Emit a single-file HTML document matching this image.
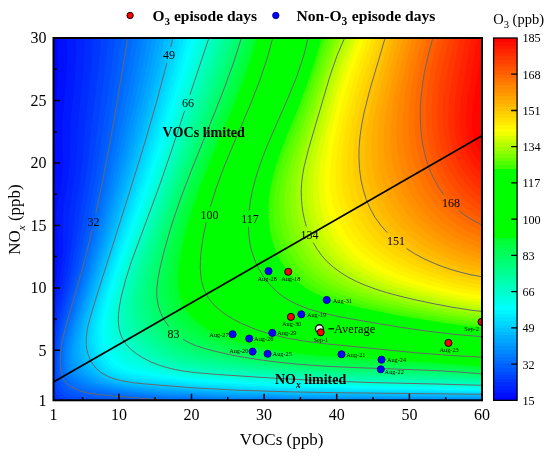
<!DOCTYPE html>
<html><head><meta charset="utf-8"><title>EKMA</title>
<style>html,body{margin:0;padding:0;background:#fff}svg{display:block}</style></head>
<body>
<svg width="550" height="457" viewBox="0 0 550 457" font-family="'Liberation Serif', 'Times New Roman', serif" fill="#000">
<rect width="550" height="457" fill="#fff"/>
<g>
<rect x="53.5" y="38" width="428.5" height="362.3" fill="#0005ff"/>
<path fill="#000fff" d="M56.9,38L482,38 482,400.3 53.5,400.3 53.5,272.5 54.3,263.6 54.6,254.6 54.3,246.6 53.5,237.9 53.5,187.9 54.9,173.7 55.4,160.8 53.9,125.8 57.1,88.9 58,73.9 58.1,57 57,39Z"/>
<path fill="#0019ff" d="M66.4,38L482,38 482,400.3 53.5,400.3 53.5,292.8 57.4,270.6 58.4,260.6 58.8,251.6 58.5,239.2 56.4,220.6 56.2,215.7 57,207.7 60.9,182.7 62.3,167.7 62.7,153.8 62.1,125.8 66.7,72.9 67.1,56 66.4,39Z"/>
<path fill="#0023ff" d="M75.6,38L482,38 482,400.3 53.5,400.3 53.5,306.4 59.7,277.5 61.5,266.6 62.7,255.6 63.3,241.6 62.5,215.7 63.4,207.7 67.6,182.7 69.3,166.8 69.9,154.8 70.5,122.8 74.3,83.9 75.5,66.9 75.9,52 75.7,39Z"/>
<path fill="#002dff" d="M84.5,38L482,38 482,400.3 53.5,400.3 53.5,320.5 55.8,308.5 63,277.5 66.6,254.6 67.6,242.6 68.8,214.7 74,181.7 76.1,163.8 78.4,121.8 83.8,65.9 84.5,51 84.6,39Z"/>
<path fill="#0037ff" d="M92.9,38L482,38 482,400.3 57.2,400.3 56.5,399.7 53.5,395.6 53.7,334.4 55,325.4 57.1,314.5 67.2,272.5 70.9,250.6 74.4,215.7 79.8,182.7 82.2,163.8 85.7,120.8 91.6,64.9 92.6,51 92.9,39Z"/>
<path fill="#0042ff" d="M100.8,38L482,38 482,400.3 64.5,400.3 60.8,398.3 58.5,396.3 56.9,394.3 55.3,391.3 53.5,383.9 53.5,364.1 54.9,353.4 54.9,343.4 55.4,336.4 58.7,318.5 67.7,283.5 72.5,261.6 75.3,245.6 79.6,214.7 85.6,179.7 88.4,158.8 92.6,118.8 98.4,68.9 100.1,51 100.8,39Z"/>
<path fill="#004cff" d="M108.2,38L482,38 482,400.3 77.7,400.3 72.5,399.2 67.5,397.5 64.5,396.1 61.5,393.9 59.3,391.3 57.5,387.8 56.2,383.3 55.5,378.3 55.1,365.4 56.3,353.4 57.1,338.4 60.5,320.9 70.5,283.6 75.6,261.6 89.5,185.7 93.8,157.8 103.4,82 107,53 108.2,39Z"/>
<path fill="#0056ff" d="M115.1,38L482,38 482,400.3 99.8,400.3 84.5,398.3 75.5,396.4 68.5,393.9 63.5,390.5 60.9,387.3 59.1,383.3 58,379.3 57.2,373.4 56.9,362.4 58.8,339.4 62.1,323.4 72.5,286.2 78.6,261.6 83.5,239.2 92.6,192.7 96.5,170.7 100.5,144.8 111.2,69.9 115.1,39Z"/>
<path fill="#0060ff" d="M121.6,38L482,38 482,400.3 146.8,400.3 122.4,398.4 110.4,398.9 87.5,395.8 80.5,394.4 74.5,392.5 69.5,390.2 65.4,387.3 62.9,384.3 61.4,381.3 59.9,376.3 58.9,370.4 58.6,359.4 60.2,341.4 63.8,325.4 74.7,287.5 81.5,261.6 86.9,238.6 94.5,202.7 100.4,172.2 105.4,143.4 113.4,93.2 121.5,39Z"/>
<path fill="#006aff" d="M127.6,38L482,38 482,400.3 169.9,400.3 151.4,399.2 122.4,396.6 114.4,396.3 90.5,393.5 82.5,391.8 76.5,389.7 70.5,386.7 66.5,383.6 64.5,381.1 63.1,378.3 61.6,373.4 60.7,368.4 60.2,358.4 61.9,342.4 65.7,326.4 77.2,287.5 83.7,263.6 89.7,239.6 97.6,204.7 104.8,169.7 111.4,134.5 127.5,39Z"/>
<path fill="#0074ff" d="M133.1,38L482,38 482,400.3 207.7,400.3 193.3,399.2 169.4,398.9 138.4,396.6 115.4,394.3 92.5,391.2 85.5,389.7 78.7,387.3 72.5,384.1 68.5,381 66.5,378.5 64.9,375.3 63.5,371.4 62.5,366.4 62,358.4 63.6,343.4 67.6,327.4 79.2,288.5 86.5,262.6 94.5,231.7 100.4,206.5 108.5,169.7 116.4,130.5 124.4,87.8 132.9,39Z"/>
<path fill="#007eff" d="M138.2,38L482,38 482,400.3 278.6,400.3 269.2,399.6 254.1,400.3 232.4,400.3 215.3,399.6 194.3,397.9 167.4,397.4 150.4,396.2 130.4,394.2 116.4,392.6 94.5,389.1 87,387.3 80.5,384.9 74.5,381.7 70.5,378.4 68.5,375.9 66.6,372.4 65.2,368.4 64.4,364.4 64,356.4 65.6,343.4 69.7,327.4 81.2,289.5 89.5,260.7 97.4,230.8 103.4,206.5 113.4,163 122.4,121.2 131.4,75.7 138,39Z"/>
<path fill="#0088ff" d="M143,38L482,38 482,400.3 412.8,400.3 380.1,399.9 358.1,400.3 302.9,400.3 287.2,399.8 270.2,398.6 249.3,399.2 230.3,399 194.3,396.7 165.4,395.9 147.4,394.5 129.4,392.6 116.4,390.9 97.4,387.5 89.2,385.3 82.5,382.7 76.6,379.3 72.5,375.9 70.5,373.4 68.5,369.6 66.5,362.4 66.3,354.4 67.7,343.4 72.1,326.4 83.5,289.5 93.5,255.1 107.4,202 119.4,152 128.4,112.1 139.4,58.9 142.9,39Z"/>
<path fill="#0092ff" d="M147.7,38L482,38 482,399.5 380.1,398.9 344.2,399.3 304.2,399.2 287.2,398.7 270.2,397.6 249.3,398 230.3,397.7 194.3,395.5 164.4,394.4 129.4,391.2 117.4,389.5 100.4,386.1 91.5,383.5 84.5,380.5 79.1,377.3 74.5,373.4 72.3,370.4 70.7,367.4 68.9,360.4 68.6,356.4 68.8,351.4 70.4,341.4 74.9,324.4 86.5,286.9 97.4,249.6 111.4,197.5 124.4,145.8 133.3,107.9 143.4,61.7 147.6,39Z"/>
<path fill="#009cff" d="M152.2,38L482,38 482,398.7 380.1,397.9 343.2,398.2 303.2,398 270.2,396.5 250.3,396.8 230.3,396.4 194.3,394.2 164.4,393 144.4,391.4 129.4,389.7 117.4,387.9 104.4,385.1 95.5,382.5 88.1,379.3 81.6,375.3 77.5,371.7 75.5,369.3 73.5,365.8 72.2,362.4 71.4,358.4 71.5,349.4 73.2,339.4 77.6,322.5 90.6,280.5 102.4,240.4 120.5,173.7 131.3,131.8 139.4,98.7 148.3,59 152.1,39Z"/>
<path fill="#00a6ff" d="M156.6,38L482,38 482,397.8 380.1,397 343.2,397.2 301.2,396.8 270.2,395.5 250.3,395.6 230.3,395.1 163.4,391.5 130.4,388.4 118.4,386.6 107.4,384.1 98.6,381.3 91.8,378.3 85.3,374.4 80.5,370.1 78.3,367.4 76.5,364.2 75,360.4 74.3,356.4 74.3,347.4 76.4,335.4 80.4,320.5 95.5,271.7 107.4,231.6 129.2,152.8 145.4,89.8 152.7,58 156.4,39Z"/>
<path fill="#00b0ff" d="M160.8,38L482,38 482,396.9 298.2,395.6 270.2,394.5 250.3,394.4 230.3,393.8 163.4,390 130.4,387 119.4,385.2 109.4,382.9 101.7,380.3 94.5,377 88.5,373 83.5,368.4 81.2,365.4 79.1,361.4 77.8,357.4 77.2,353.4 77.5,343.4 79.9,330.4 83.7,316.5 111,227.6 135.2,142.8 150.4,84.9 156.8,58 160.7,39Z"/>
<path fill="#00bbff" d="M165,38L482,38 482,396.1 296.2,394.4 231.3,392.5 169.4,389 133.4,385.8 122.4,384.2 115.4,382.8 107.1,380.3 100,377.3 93.5,373.4 87.9,368.4 84.8,364.4 82.6,360.4 81.2,356.4 80.4,352.4 80.1,347.4 80.5,341.4 82.7,328.4 86.5,314.5 117,215.7 139.6,138.8 154.4,83.9 160.4,59.2 164.8,39Z"/>
<path fill="#00c5ff" d="M169,38L482,38 482,395.2 292.2,393.1 231.3,391.2 173.4,387.9 134.4,384.4 118.4,381.8 108.4,378.9 102.8,376.3 96.6,372.4 91.3,367.4 88.4,363.4 86.2,359.4 84.7,355.4 83.6,350.4 83.2,345.4 83.4,339.4 85.5,326.4 89.4,312.5 123.2,203.7 143.7,135.8 158,83.9 168.8,39Z"/>
<path fill="#00cfff" d="M172.9,38L482,38 482,394.3 343.2,392.8 289.2,391.9 233.3,390 183.3,387.1 144.4,383.9 131.4,382.4 119.4,380.4 109.8,377.3 105.5,375.3 99.5,371.4 95.3,367.4 92.4,363.4 89.6,358.4 87.8,353.4 86.7,348.4 86.2,343.4 86.3,337.4 87.2,330.4 88.4,324.4 91,314.5 97.8,292.5 132.5,182.7 147.4,133.9 161.4,84.3 172.7,39Z"/>
<path fill="#00d9ff" d="M176.7,38L482,38 482,393.5 343.2,391.8 279.2,390.4 233.3,388.7 191.3,386.3 145.4,382.3 132.4,380.8 121.4,378.9 114.4,376.8 108.4,374.4 102.5,370.4 98.4,366.4 95.5,362.2 92.4,356.4 90.7,351.4 89.6,346.4 89.1,341.4 89.2,335.4 90.1,328.4 91.5,321.9 95.4,307.5 104,279.5 135.7,181.7 150.3,134.8 164.3,85.9 176.5,39Z"/>
<path fill="#00e3ff" d="M180.2,39L180.4,38 482,38 482,392.6 355.1,390.9 279.2,389.2 233.3,387.3 192.3,385 145.4,380.5 132.4,378.9 123.7,377.3 116.7,375.3 110.4,372.6 105.6,369.4 101.5,365.4 98.4,361 95.6,355.4 93.8,350.4 92.5,344.4 92.1,338.4 92.3,332.4 94.6,319.5 99.6,301.5 109.4,269.6 138.2,182.7 152.4,138 166.4,90.3 180,40Z"/>
<path fill="#00edff" d="M184.1,38L482,38 482,391.7 368.1,390.1 279.2,388 193.3,383.7 157.4,380.1 135.4,377.3 125.4,375.5 119.4,373.8 113.4,371.2 109,368.4 104.8,364.4 101.4,359.7 98.8,354.4 96.7,348.4 95.5,342.4 95.1,336.4 95.3,330.4 96.3,323.4 97.8,316.5 103.4,296.2 112.4,267.3 140.4,184.7 154.4,141.3 169.1,91.9 183.8,39Z"/>
<path fill="#00f7ff" d="M187.7,38L482,38 482,390.8 369.1,389.1 279.2,386.7 194.3,382.3 159.4,378.5 137.1,375.3 127.4,373.5 121.4,371.8 116,369.4 111.5,366.4 107.4,362.4 104.4,358.1 101.6,352.4 99.7,346.4 98.6,340.4 98.2,334.4 98.5,328.4 99.4,321.5 101.4,312.5 107.2,291.5 115.6,264.6 142.3,187.7 156.3,144.8 170.5,97.9 187.4,39Z"/>
<path fill="#00fffd" d="M191.2,38L482,38 482,389.9 371.1,388.1 320.2,386.7 264.3,384.8 194.3,380.8 164,377.3 141.4,373.7 130.4,371.5 123.4,369.4 118.4,367.1 114.4,364.4 110.4,360.4 107,355.4 104.4,349.7 102.6,343.4 101.6,337.4 101.4,331.4 101.9,324.4 103.2,316.5 105.2,307.5 110.8,287.5 118.6,262.6 143.7,191.7 157.4,150.5 171.5,104.9 191,39Z"/>
<path fill="#00fff2" d="M194.8,38L482,38 482,389 372.1,387 325.2,385.7 264.3,383.4 194.9,379.3 179.4,377.7 164.4,375.5 147.2,372.4 133.7,369.4 127.2,367.4 121.4,364.7 116.7,361.4 113.4,358 110.3,353.4 107.6,347.4 105.8,341.4 104.8,334.4 104.7,327.4 105.3,320.5 106.7,312.5 109.1,302.5 114.4,283.3 121.7,260.6 145.4,194.7 158.6,155.8 172.1,112.9 194.5,39Z"/>
<path fill="#00ffe7" d="M198.1,39L198.3,38 482,38 482,388.1 373.1,386 325.2,384.5 265.3,382 194.3,377.7 180.4,376.1 166.4,373.9 153.8,371.4 138.1,367.4 130.4,364.8 125.2,362.4 120.8,359.4 116.8,355.4 113.4,350.4 110.7,344.4 109,338.4 108,331.4 108,324.4 108.7,317.5 110.3,308.5 112.7,298.5 118,279.5 124.4,259.7 147.5,196.7 160.4,159 197.8,40Z"/>
<path fill="#00ffdc" d="M201.9,38L482,38 482,387.2 373.1,384.9 325.2,383.3 262.3,380.4 193.3,376 179.4,374.2 166.4,371.9 154.4,369 142.4,365.4 134.5,362.4 128.4,359.3 123.4,355.6 119.5,351.4 116.2,346.4 113.6,340.4 112.1,334.4 111.4,328.4 111.4,321.5 112.3,313.5 113.9,304.5 116.6,293.5 121.4,276.5 127.4,258.2 149.5,198.7 162.2,161.8 201.6,39Z"/>
<path fill="#00ffd2" d="M205.1,39L205.4,38 482,38 482,386.3 373.1,383.8 325.2,382.1 260.3,378.8 207.3,375.4 193.3,374.2 180.4,372.5 169.4,370.4 159.4,367.9 150.4,365 141.6,361.4 133.9,357.4 128.2,353.4 123.2,348.4 119.8,343.4 117.4,338.4 115.7,332.4 114.8,325.4 114.9,318.5 115.7,310.5 117.6,300.5 120.3,289.5 124.6,274.5 130.4,256.9 151.4,200.7 164.3,163.8 204.8,40Z"/>
<path fill="#00ffc7" d="M208.9,38L482,38 482,385.3 373.1,382.6 325.2,380.9 259.3,377.2 207.3,373.7 192.8,372.4 180.4,370.6 169.9,368.4 160.4,365.6 152.4,362.6 143.7,358.4 137.4,354.5 130.8,349.4 126.2,344.4 122.8,339.4 120.6,334.4 119,328.4 118.3,321.5 118.5,314.5 119.4,306.5 121.3,296.5 124.1,285.5 128.4,270.7 133.4,255.8 154.4,199.7 167,163.8 208.6,39Z"/>
<path fill="#00ffbc" d="M212.3,38L482,38 482,384.3 362.1,381.1 325.2,379.6 258.3,375.6 213.1,372.4 193.3,370.5 181.4,368.6 171.4,366.4 163.4,363.9 155.4,360.6 147.4,356.4 141.4,352.4 134.4,346.6 129.7,341.4 126.3,336.4 124.1,331.4 122.6,325.4 121.9,318.5 122.1,311.5 123.2,302.5 125.1,292.5 127.9,281.5 131.8,268.6 136.5,254.6 156.4,201.4 169.4,164.8 212,39Z"/>
<path fill="#00ffb1" d="M215.3,39L215.6,38 482,38 482,383.3 440,381.8 362.1,379.8 325.2,378.3 258.3,374 211.6,370.4 195.3,368.7 185.3,367.1 176.4,365.2 167.4,362.5 159.8,359.4 152.4,355.4 145.1,350.4 138.4,344.5 133.8,339.4 130.4,334.4 128,329.4 126.4,323.4 125.6,316.5 125.6,309.5 126.7,300.5 128.6,290.5 131.3,279.5 138.5,256.6 169.2,172.7 215,40Z"/>
<path fill="#00ffa6" d="M218.9,38L482,38 482,382.2 440,380.6 361.1,378.5 323.2,376.8 257.8,372.4 216.3,368.8 198.3,366.9 188.3,365.4 179.2,363.4 170.4,360.6 162.8,357.4 155.7,353.4 148.7,348.4 143.1,343.4 137.8,337.4 134.4,332.4 131.6,326.4 130,320.5 129.3,314.5 129.4,306.5 130.2,298.5 131.9,289.5 134.5,278.5 142.7,252.6 178.6,153.8 218.6,39Z"/>
<path fill="#00ff9b" d="M222.1,38L482,38 482,381.1 440,379.3 360.1,377.1 318.2,375.2 257.3,370.6 201.3,365 190.8,363.4 181.9,361.4 173.4,358.7 166.4,355.6 159,351.4 152.4,346.5 146.9,341.4 141.7,335.4 138.4,330.4 135.6,324.4 133.9,318.5 133.1,311.5 133.1,303.5 134,295.5 135.6,286.5 138.1,276.5 142.3,262.6 148.4,244.6 198.9,104.9 218.3,50 221.9,39Z"/>
<path fill="#00ff91" d="M225.1,39L225.4,38 482,38 482,380 440,378 351.2,375.3 314.2,373.5 259.3,369.1 206.4,363.4 195.3,361.6 186.3,359.7 178.6,357.4 171.2,354.4 164,350.4 157.4,345.6 151.6,340.4 146.4,334.4 143,329.4 140,323.4 138.1,317.5 137,310.5 136.9,302.5 137.6,294.5 139.1,285.5 141.5,275.5 147.2,256.6 156,230.6 208.2,87.9 220.6,53 224.8,40Z"/>
<path fill="#00ff86" d="M228.6,38L482,38 482,378.9 443,376.8 354.1,374 313.2,371.9 288.2,370.1 260.3,367.5 212.3,361.8 200.3,359.9 190.3,357.8 182.2,355.4 174.9,352.4 167.6,348.4 161.4,343.8 155.5,338.4 150.4,332.4 146.5,326.4 143.7,320.5 141.9,314.5 140.9,307.5 140.8,299.5 141.5,291.5 143.1,282.5 145.5,272.5 153,247.6 164.3,214.7 177.4,178.8 212.9,83.9 223.5,54 228.3,39Z"/>
<path fill="#00ff7b" d="M231.8,38L482,38 482,377.7 443,375.4 352.2,372.4 313.2,370.4 267.3,366.5 226.3,361.4 198.3,356.6 189.3,354.3 181.1,351.4 173.2,347.4 166.4,342.7 160.4,337.4 154.4,330.4 150.6,324.4 147.8,318.5 145.8,311.5 144.8,304.5 144.7,296.5 145.5,288.5 147.1,279.5 149.5,269.6 157.8,241.6 169.4,207.7 182.3,172.5 215.8,84.9 226.1,56 231.6,39Z"/>
<path fill="#00ff70" d="M235.1,38L482,38 482,376.5 460,374.9 434.1,373.5 353.2,370.9 315.2,368.9 276.2,365.7 239.3,361 220.3,358 204.3,354.9 194.2,352.4 185.5,349.4 177.4,345.4 170.4,340.6 164.4,335.3 158.6,328.4 154.8,322.5 151.6,315.5 149.7,308.5 148.7,301.5 148.6,294.5 149.4,286.5 151,277.5 153.9,265.6 162.3,236.6 173.4,203.8 185.3,171.6 218.7,85.9 228.3,59 234.8,39Z"/>
<path fill="#00ff65" d="M238.2,38L482,38 482,375.2 460,373.5 434.1,372 353.2,369.2 316.2,367.3 280.2,364.3 249.1,360.4 231,357.4 211,353.4 199.1,350.4 190.3,347.4 182.3,343.7 175.4,339.2 168.8,333.4 162.9,326.4 159.1,320.5 155.9,313.5 153.8,306.5 152.7,298.5 152.8,290.5 153.7,282.5 155.6,272.5 159.2,257.6 167.3,229.6 177.4,200.1 188.3,171 221.5,86.9 230.9,61 238,39Z"/>
<path fill="#00ff5b" d="M241.1,39L241.4,38 482,38 482,373.9 459,372 434.1,370.5 349.4,367.4 314.2,365.5 279.4,362.4 253.3,358.9 236.3,355.9 219.8,352.4 204.3,348.4 194.3,345 186.3,341.3 178.8,336.4 172.4,330.6 167.2,324.4 162.8,317.5 159.7,310.5 157.7,303.5 156.8,295.5 156.9,287.5 158,278.5 160.2,267.6 164,251.6 171.4,225.9 181.4,196.7 191.3,170.5 224,88.9 233.3,63.4 240.8,40Z"/>
<path fill="#00ff50" d="M244.2,39L244.5,38 482,38 482,372.5 460,370.6 434.1,369 347.2,365.5 315.2,363.7 287.2,361.3 257.8,357.4 241.3,354.4 223.6,350.4 209.1,346.4 198.3,342.6 190.3,338.9 183.3,334.4 176.5,328.4 171.4,322.3 167.1,315.5 163.6,307.5 161.7,300.5 160.9,292.5 161.1,284.5 162.4,274.5 165.1,260.6 168.4,246.6 175.4,222.5 184.3,196.2 194.3,170.1 227.3,88.9 236.3,63.9 244,40Z"/>
<path fill="#00ff45" d="M247.6,38L482,38 482,371 460,369.1 434.1,367.5 344.2,363.5 316.2,361.9 288.1,359.4 261.3,355.7 244.1,352.4 228.3,348.6 213.8,344.4 202.3,340.2 194.3,336.4 186.7,331.4 180.4,325.8 175.1,319.5 170.8,312.5 167.8,305.5 165.8,297.5 165.1,289.5 165.4,280.5 166.7,270.6 169.4,256.6 173,241.6 179.3,219.6 187.4,195.7 198.3,167.5 221,112.9 230.5,88.9 239.8,63 247.3,39Z"/>
<path fill="#00ff3a" d="M250.6,38L482,38 482,369.5 434.1,365.9 317.2,359.9 289.2,357.4 264.3,353.8 247.3,350.4 232.3,346.7 218.4,342.4 206.3,337.8 197.5,333.4 190.3,328.7 184.3,323.3 178.7,316.5 174.6,309.5 171.8,302.5 170,294.5 169.3,286.5 169.7,277.5 171.3,265.6 173.9,251.6 177.2,237.6 183.3,216.5 191.3,193.2 201.3,167.6 223.8,113.9 233.3,89.9 242.7,63.9 250.4,39Z"/>
<path fill="#00ff2f" d="M253.7,38L482,38 482,367.9 434.1,364.4 318.2,357.9 291.2,355.3 267.3,351.8 250.6,348.4 236.3,344.7 222.3,340.2 210.3,335.4 202.3,331.4 194.7,326.4 188.3,320.8 183.1,314.5 179,307.5 176.1,300.5 174.3,292.5 173.6,284.5 173.9,274.5 175.3,263.6 177.6,250.6 181.1,235.6 187.1,214.7 194.6,192.7 204.3,167.7 227,113.9 236.5,89.9 246.2,63 253.4,39Z"/>
<path fill="#00ff00" d="M256.8,38L482,38 482,366.2 434.1,362.8 319.2,355.7 292.2,353.1 269.2,349.6 254.4,346.4 239.7,342.4 226.3,337.9 214.3,333 205.6,328.4 198.2,323.4 191.7,317.5 186.9,311.5 182.9,304.5 180.2,297.5 178.5,289.5 177.9,281.5 178.2,271.5 179.5,260.6 182.1,246.6 185.3,232.6 191,212.7 198.3,191.2 208.3,165.8 230.6,112.9 239.8,89.9 249.4,63 256.5,39Z"/>
<path fill="#00ff00" d="M259.9,38L482,38 482,364.5 321.2,353.6 294.2,350.8 272.4,347.4 258.3,344.3 244.1,340.4 231.3,336 219.3,331 210.6,326.4 203.1,321.5 196.4,315.5 191.3,309.2 187.4,302.5 184.7,295.5 182.9,287.5 182.2,279.5 182.5,269.6 183.7,258.6 186.2,244.6 189.3,230.6 195,210.7 202.1,189.7 211.4,165.8 234.2,111.9 243.4,88.9 252.9,62 259.6,39Z"/>
<path fill="#00ff00" d="M263,38L482,38 482,362.7 426.1,359 324.2,351.4 297.2,348.6 275.2,345 261.3,341.9 248.3,338.2 234.7,333.4 223.3,328.4 214.1,323.4 206.9,318.5 200.3,312.5 195.5,306.5 191.5,299.5 188.9,292.5 187.2,284.5 186.6,276.5 186.9,266.6 188.2,254.6 190.5,241.6 193.7,227.6 200.3,204.7 208.8,180.7 218,157.8 239.9,105.9 249.6,80.9 257.1,59 262.8,39Z"/>
<path fill="#00ff00" d="M266.2,38L482,38 482,360.9 427.1,357.3 326.2,349.1 299.2,346.1 277.2,342.4 264.2,339.4 250.7,335.4 238.3,330.8 227.3,325.8 217.8,320.5 210.7,315.5 204.3,309.5 199.6,303.5 196.2,297.5 193.3,290 191.8,282.5 191.1,273.5 191.4,263.6 192.7,251.6 195.2,237.6 198.4,223.6 204.7,201.7 213.2,177.7 222,155.8 243.2,105.9 252.9,80.9 260.4,59 265.9,39Z"/>
<path fill="#00ff00" d="M269.2,39L269.4,38 482,38 482,359 427.1,355.6 327.2,346.6 300.4,343.4 279.2,339.7 265.8,336.4 254.3,332.9 242.7,328.4 232.1,323.4 222.3,317.9 214.8,312.5 208.4,306.5 203.8,300.5 200.5,294.5 197.9,287.5 196.3,279.5 195.6,270.6 195.9,260.6 197.3,248.6 199.7,234.6 202.8,220.6 209.2,198.7 217.3,175.7 226.1,153.8 247.3,103.9 256.6,79.9 263.7,59 268.9,40Z"/>
<path fill="#00ff00" d="M272.7,38L482,38 482,357.2 439.1,354.7 391.3,350.4 315.2,342.6 299.2,340.3 282.2,337.1 268.2,333.6 257.3,330 246.3,325.7 236.3,320.8 226.3,314.9 219,309.5 212.7,303.5 208.3,297.7 204.9,291.5 202.5,284.5 200.9,276.5 200.3,267.6 200.6,257.6 201.9,245.6 204.2,231.6 207.3,217.7 213.3,196.7 221.4,173.7 229.8,152.8 251,102.9 260.3,78.9 267.6,57 272.4,39Z"/>
<path fill="#00ff00" d="M276.1,38L482,38 482,355.2 441,353 403.1,349.5 319.2,340.3 302.2,337.8 287.2,334.9 275.2,332 263.3,328.2 252.3,323.9 242.3,319.1 232.7,313.5 224.5,307.5 218.1,301.5 213.3,295.3 209.6,288.5 207.3,282 205.8,274.5 205.1,265.6 205.3,254.6 206.5,242.6 208.6,229.6 211.6,215.7 217.8,193.7 225.9,170.7 234.3,149.8 255.1,100.9 264.1,77.9 270.8,58 275.9,39Z"/>
<path fill="#00ff00" d="M279.6,38L482,38 482,353.3 442,351.2 405.1,347.6 322.2,337.9 305.2,335.3 290.2,332.4 278.2,329.3 266.4,325.4 256.3,321.3 246.5,316.5 237.3,310.8 229.3,304.8 222.8,298.5 218.2,292.5 214.5,285.5 212.1,278.5 210.5,270.6 209.9,261.6 210.1,250.6 211.3,238.6 213.3,225.6 216.1,212.7 222,191.7 230,168.7 238.5,147.8 259.3,98.9 267.9,76.9 274.3,58 279.3,39Z"/>
<path fill="#00ff00" d="M283.1,38L482,38 482,351.4 444,349.3 407.1,345.7 323.2,335.2 306.2,332.5 292.2,329.5 280.2,326.3 269.2,322.5 259.8,318.5 250.2,313.5 240.9,307.5 233.4,301.5 227.5,295.5 223.1,289.5 219.4,282.5 217,275.5 215.5,267.6 214.7,258.6 214.9,247.6 215.9,235.6 217.9,222.6 220.6,209.7 226.5,188.7 234.6,165.8 243,144.8 263.6,96.9 272.2,74.9 278.2,57 282.9,39Z"/>
<path fill="#00ff00" d="M286.7,38L482,38 482,349.4 445,347.3 409.1,343.7 326.2,332.8 310.2,330.2 296.2,327.2 285.2,324.2 274.2,320.4 264.3,316 255.3,311.3 246.4,305.5 239.1,299.5 233.2,293.5 228.3,286.9 224.9,280.5 222.1,272.5 220.4,264.6 219.6,255.6 219.6,244.6 220.6,232.6 222.5,219.6 225.2,206.7 231,185.7 238.7,163.8 247.3,142.7 267.9,94.9 276.2,73.9 281.8,57 286.5,39Z"/>
<path fill="#00ff00" d="M290,39L290.3,38 482,38 482,347.4 445,345.2 409.7,341.4 328.2,330.2 312.2,327.4 298.8,324.4 287.2,321.1 277.2,317.5 268.2,313.4 259.4,308.5 251.3,303 244.3,297.1 238.3,290.8 233.7,284.5 230,277.5 227.3,270 225.5,261.6 224.5,252.6 224.4,241.6 225.2,229.6 226.9,217.7 229.5,204.7 235.2,183.7 243.3,160.8 251.9,139.8 272.2,92.9 280.1,72.9 285.4,57 289.8,40Z"/>
<path fill="#00ff00" d="M293.8,38L482,38 482,345.3 445,342.9 409.1,338.9 329.5,327.4 314.2,324.7 301.2,321.7 290.2,318.4 280.2,314.5 271.7,310.5 263.3,305.5 256.2,300.5 249.3,294.5 243.8,288.5 238.8,281.5 235.1,274.5 232.3,266.6 230.3,257.6 229.4,248.6 229.2,237.6 229.9,226.6 231.5,214.7 234,201.7 239.4,181.7 247.3,159.4 256.1,137.8 276.2,91.9 283.8,72.9 289.4,56 293.6,39Z"/>
<path fill="#00ff00" d="M297.2,39L297.4,38 482,38 482,343.3 445,340.6 408.8,336.4 333.2,325 318.2,322.3 305.2,319.2 295.2,316.2 285.3,312.5 276.9,308.5 268.5,303.5 261.6,298.5 254.9,292.5 249.3,286.3 244.3,279.2 240.3,271.5 237.4,263.6 235.4,254.6 234.3,245.6 234,234.6 234.6,223.6 236.1,211.7 238.4,199.7 243.7,179.7 251.4,157.8 260.3,136.3 280.3,90.9 287.8,71.9 293,56 297,40Z"/>
<path fill="#00ff00" d="M300.9,38L482,38 482,341.1 444,338.2 406.1,333.5 335.2,322.3 320.4,319.5 308.1,316.5 298.2,313.4 289.2,309.9 280.3,305.5 273.2,301.1 265.9,295.5 259.5,289.5 254.4,283.5 249.6,276.5 245.5,268.6 242.5,260.6 240.4,251.6 239.2,242.6 238.7,232.6 239.2,221.6 240.6,209.7 242.8,197.7 248.1,177.7 255.4,156.8 264,135.8 283.9,90.9 291.4,71.9 296.9,55 300.7,39Z"/>
<path fill="#00ff00" d="M304.2,39L304.4,38 482,38 482,339 442,335.5 404.1,330.6 337.2,319.5 323.2,316.7 311.2,313.7 301.2,310.5 292.2,306.8 284.2,302.7 277.6,298.5 271.3,293.5 265.1,287.5 260,281.5 255.3,274.5 251.1,266.6 248,258.6 245.6,249.6 244.2,240.6 243.5,230.6 243.8,219.6 245,208.7 247,196.7 252.1,176.7 259.4,155.8 267.3,136.7 287,91.9 294.9,71.9 300.2,55.8 304,40Z"/>
<path fill="#00ff00" d="M307.8,38L482,38 482,336.7 442,333 403.1,327.7 340.2,316.8 326.2,313.9 314.2,310.8 304.3,307.5 296.2,304.1 289.2,300.5 281.6,295.5 275.5,290.5 269.6,284.5 264.8,278.5 260.3,271.5 256.1,263.6 253,255.6 250.5,246.6 249.1,237.6 248.4,227.6 248.5,217.7 249.6,206.7 251.6,194.7 256.3,175.7 263.3,155.6 271.2,136 290.2,92.9 298.2,72.5 304.1,54 307.6,39Z"/>
<path fill="#00ff00" d="M311.1,39L311.3,38 482,38 482,334.5 463,332.8 442,330.5 402.1,324.8 376.6,320.5 345,314.5 330.2,311.3 318.2,308 309.2,305 300.8,301.5 293.2,297.5 287.1,293.5 281,288.5 275.2,282.7 270.3,276.5 265.8,269.6 261.6,261.6 258,252.6 255.5,243.6 254,234.6 253.3,224.6 253.4,214.7 254.4,203.7 256.2,192.7 260.1,176.7 265.2,160.8 272.6,141.8 291.2,98.8 298.8,79.9 306,59 310.9,40Z"/>
<path fill="#00ff00" d="M314.8,38L482,38 482,332.1 465,330.6 444,328.2 401.1,321.8 376.5,317.5 351.5,312.5 335.2,308.8 323,305.5 314.2,302.5 305.2,298.7 298.2,295 291.5,290.5 285.5,285.5 280.2,280.1 275.1,273.5 270.6,266.6 266.5,258.6 263,249.6 260.5,240.6 259,231.6 258.2,221.6 258.4,211.7 259.2,201.7 261,190.7 264.5,175.7 269.6,159.8 276.2,142.4 293.5,101.9 301.4,81.9 309,60 314.6,39Z"/>
<path fill="#00ff00" d="M318.1,39L318.3,38 482,38 482,329.8 467,328.4 443,325.5 399.1,318.6 356.1,310.1 340.2,306.3 326.7,302.5 317.2,299.1 309.2,295.5 302.2,291.7 296.1,287.5 290.2,282.5 284.5,276.5 279.9,270.6 275.5,263.6 271.5,255.6 268.2,247.2 265.8,238.6 264.2,229.6 263.3,219.6 263.4,209.7 264.2,199.7 265.8,188.7 269.2,174.2 274.1,158.8 280.1,142.8 295.9,104.9 304,83.9 311.5,62 317.8,40Z"/>
<path fill="#3eff00" d="M321.9,38L482,38 482,327.3 467,325.9 443,322.8 398.1,315.5 359.7,307.5 343.9,303.5 331.2,299.7 322.2,296.4 314.2,292.8 307.2,288.9 300.9,284.5 295,279.5 289.4,273.5 284.9,267.6 280.5,260.6 276.6,252.6 273.5,244.6 271,235.6 269.4,226.6 268.5,217.7 268.5,207.7 269.2,197.7 270.8,186.7 274,172.7 278.7,157.8 283.8,143.8 298.2,108.2 306.2,87.1 314.1,63.9 321.6,39Z"/>
<path fill="#52ff00" d="M325.1,39L325.5,38 482,38 482,324.8 468,323.5 445.5,320.5 400.1,312.8 365.9,305.5 350.7,301.5 337.2,297.3 327.2,293.6 319.2,289.9 312.2,285.9 305.9,281.5 300.1,276.5 294.5,270.6 289.9,264.6 285.7,257.6 281.7,249.6 278.7,241.6 276.2,232.6 274.6,223.6 273.8,214.7 273.7,204.7 274.5,194.7 275.9,184.7 279.1,170.7 283.4,156.8 307.2,93.7 315.3,69.9 324.8,40Z"/>
<path fill="#65ff00" d="M329.1,38L482,38 482,322.3 469,321 445,317.6 402.1,310.1 384.6,306.5 368.1,302.5 353.9,298.5 342.2,294.7 333.2,291.2 325.2,287.4 318.2,283.5 311,278.5 305.2,273.5 299.7,267.6 295.2,261.6 290.9,254.6 287.1,246.6 284.1,238.6 281.6,229.6 280,220.6 279.2,211.7 279.1,201.7 279.7,192.7 281.1,182.7 284,169.7 288.5,154.8 307.8,101.9 328.8,39Z"/>
<path fill="#79ff00" d="M332.8,38L482,38 482,319.7 469.7,318.5 447,315.1 404.6,307.5 374.1,300.5 360.4,296.5 348.2,292.4 338.6,288.5 330.3,284.5 323.2,280.4 316.2,275.4 310.6,270.6 305.1,264.6 300.2,258 295.8,250.6 292.1,242.6 289.2,234.6 287.1,226.6 285.5,217.7 284.7,208.7 284.5,199.7 285.1,190.7 286.4,180.7 289.2,167.7 293.6,152.8 308.2,111.4 325.7,58 332.5,39Z"/>
<path fill="#8cff00" d="M336.7,38L482,38 482,317 470,315.8 447,312.3 406.1,304.6 376.9,297.5 364.1,293.6 353.2,289.7 343.2,285.5 335.3,281.5 328.2,277.2 321.2,272.1 315.2,266.7 310.2,261.1 305.4,254.6 301.3,247.6 297.6,239.6 294.8,231.6 292.7,223.6 291.1,214.7 290.2,205.7 290.1,196.7 290.6,187.7 291.8,178.7 294.8,164.8 299.1,149.8 310.9,114.9 327.2,63.4 331.9,50 336.3,39Z"/>
<path fill="#a0ff00" d="M340.6,38L482,38 482,314.3 471,313.1 449,309.6 411.9,302.5 383.1,295.5 370.2,291.5 359.2,287.5 350,283.5 341.2,279 333.9,274.5 327.2,269.6 321.6,264.6 316.2,258.6 311.2,251.8 307,244.6 303.7,237.6 300.8,229.6 298.5,221.6 296.8,212.7 295.9,203.7 295.6,194.7 296.1,185.7 297.2,176.7 299.4,165.8 302.5,153.8 314.1,116.8 325.2,79.9 333.2,56.1 340.2,39Z"/>
<path fill="#b3ff00" d="M344.6,38L482,38 482,311.4 472,310.3 450,306.8 413.7,299.5 385.1,292.1 373.9,288.5 363.4,284.5 354.1,280.3 345.4,275.5 337.8,270.6 331.5,265.6 326.2,260.6 321,254.6 316.2,247.8 312.1,240.6 309,233.6 306.1,225.6 304,217.7 302.3,208.7 301.5,200.7 301.3,191.7 301.7,182.7 302.8,173.7 304.8,163.8 307.8,151.8 328.2,81.7 336.2,57.8 344.2,39Z"/>
<path fill="#c6ff00" d="M348.1,39L348.5,38 482,38 482,308.5 472,307.4 451,303.8 417.1,296.8 389.8,289.5 377.9,285.5 367.8,281.5 359.1,277.4 350.5,272.5 343.1,267.6 336.9,262.6 331.2,257 326.2,251 321.7,244.6 317.8,237.6 314.6,230.6 311.8,222.6 309.6,214.7 308,205.7 307.2,197.7 306.9,188.7 307.3,180.7 308.3,171.7 310.2,161.8 313,149.8 331.2,83.9 339.2,60 347.7,40Z"/>
<path fill="#daff00" d="M352,39L352.4,38 482,38 482,305.4 471,304.1 453,301 421.1,294.1 393.7,286.5 382.2,282.5 372.5,278.5 364.1,274.5 355.6,269.6 348.5,264.6 342.4,259.6 336.4,253.6 331.5,247.6 326.8,240.6 323,233.6 319.9,226.6 317.1,218.7 315.1,210.7 313.5,201.7 312.8,193.7 312.6,184.7 313.1,176.7 314.2,167.7 316.2,156.8 318.9,144.8 334.5,85.9 342,63 351.7,40Z"/>
<path fill="#edff00" d="M356,39L356.3,38 482,38 482,302.3 471,300.9 456,298.3 425.1,291.4 410.7,287.5 397.8,283.5 386.7,279.5 377.1,275.4 369.1,271.4 360.9,266.6 353.9,261.6 348,256.6 342,250.6 337.1,244.6 332.4,237.6 328.6,230.6 325.6,223.6 322.8,215.7 320.8,207.7 319.4,199.7 318.6,191.7 318.3,182.7 318.8,173.7 319.8,164.8 321.7,153.8 324.8,139.8 333.1,105.9 337.9,87.9 345.1,65.9 355.6,40Z"/>
<path fill="#fffe00" d="M360,39L360.3,38 482,38 482,299 470.6,297.5 455,294.7 426.1,287.8 412.1,283.8 400.1,279.8 389.1,275.5 380.4,271.5 372.1,267.1 364.9,262.6 358.2,257.6 352.2,252.2 346.9,246.6 342.1,240.6 337.6,233.6 333.9,226.6 330.9,219.6 328.3,211.7 326.3,203.7 325,195.7 324.2,187.7 324.1,178.7 324.6,169.7 325.6,160.8 327.8,147.8 331.1,131.8 336.5,108.9 341.2,91.1 348.2,69.2 359.6,40Z"/>
<path fill="#fff400" d="M364,39L364.3,38 482,38 482,295.6 471,294.1 457,291.5 443,288.4 429.1,284.7 415.4,280.5 404.1,276.5 394.2,272.5 385.1,268.2 377.1,263.8 370.1,259.3 363.1,253.9 357.3,248.6 351.8,242.6 347.2,236.6 342.8,229.6 339.2,222.6 336.3,215.7 333.8,207.7 331.9,199.7 330.6,191.7 330,183.7 329.9,174.7 331.3,156.8 333.4,143.8 336.3,128.8 340.6,109.9 344.7,93.9 351.3,72.9 363.7,40Z"/>
<path fill="#ffea00" d="M368.1,39L368.4,38 482,38 482,292.1 471,290.5 458,288 445,285 432.4,281.5 419.9,277.5 409,273.5 399.1,269.4 389.3,264.6 382.1,260.4 374.9,255.6 368.6,250.6 362.2,244.6 356.9,238.6 352.4,232.6 348.2,225.6 344.7,218.7 341.9,211.7 339.4,203.7 337.6,195.7 336.4,187.7 335.7,179.7 335.6,170.7 336.1,161.8 337.1,151.8 339.1,138.8 341.8,124.8 348.7,95.9 355.1,74.9 367.7,40Z"/>
<path fill="#ffe000" d="M372.5,38L482,38 482,288.5 471,286.8 459,284.4 447,281.5 435.1,278.1 424.1,274.4 413.1,270.2 402.8,265.6 394.1,261 386.7,256.6 379.6,251.6 373.1,246.3 367.3,240.6 362.1,234.6 357.8,228.6 353.6,221.6 350.2,214.7 347.5,207.7 345.1,199.7 343.3,191.7 342.2,183.7 341.5,175.7 341.4,166.8 341.9,156.8 342.9,146.8 346.9,122.8 352.8,97.9 358.8,77.9 372.2,39Z"/>
<path fill="#ffd600" d="M376.6,38L482,38 482,284.7 471,283 460,280.7 449,277.9 437.9,274.5 426.6,270.6 416.9,266.6 408.1,262.4 399.2,257.6 391.3,252.6 384.5,247.6 378.1,242.2 372.6,236.6 367.5,230.6 363.3,224.6 359.2,217.7 355.9,210.7 353.2,203.7 350.8,195.7 349.1,187.7 348,179.7 347.3,170.7 347.2,161.8 348.6,142.8 352,121.8 357.1,99.7 362.7,80.9 376.3,39Z"/>
<path fill="#ffcc00" d="M380.8,38L482,38 482,280.8 471,279 461,276.8 450,273.8 439.8,270.6 429.2,266.6 420.1,262.6 412.1,258.5 403.5,253.6 396,248.6 389.5,243.6 383.8,238.6 378,232.6 373,226.6 368.9,220.6 364.9,213.7 361.6,206.7 359,199.7 356.7,191.7 355,183.7 353.9,175.7 353.2,167.7 353,158.8 353.3,149.8 354.2,139.8 357.2,120.8 361.8,100.9 366.6,83.9 380.6,39Z"/>
<path fill="#ffc200" d="M385.1,38L482,38 482,276.8 471,274.8 461.5,272.5 442.3,266.6 433.1,262.9 424.1,258.8 416.2,254.6 408.1,249.7 400.8,244.6 394.6,239.6 388.1,233.6 383.1,228.2 378.1,221.9 374.1,215.9 370.7,209.7 367.5,202.7 364.9,195.7 362.6,187.7 360.9,179.7 359.8,171.7 359.1,163.8 358.9,154.8 359.8,137.8 362.4,120.8 366.4,102.9 370.7,86.9 384.8,39Z"/>
<path fill="#ffb800" d="M389.5,38L482,38 482,272.6 463,268.4 445,262.5 436.1,258.8 427.5,254.6 420.1,250.4 412.5,245.6 405.8,240.6 399.1,235 393.6,229.6 388.2,223.6 383.7,217.7 379.8,211.7 376.1,204.8 373.1,197.9 368.6,183.7 365.9,168.7 364.9,152.8 365.7,135.8 367.9,119.8 371.8,101.9 389.2,39Z"/>
<path fill="#ffae00" d="M394,38L482,38 482,268.2 464,263.9 447,258 431.6,250.6 424.1,246.2 417.1,241.5 410.8,236.6 404.1,230.7 399,225.6 393.9,219.6 389.5,213.7 385.7,207.7 382.1,200.7 379.1,193.7 374.7,179.7 372,164.8 371,148.8 371.8,132.8 373.8,117.8 377.5,99.9 382.3,80.9 393.7,39Z"/>
<path fill="#ffa400" d="M398.5,38L482,38 482,263.7 465,259.2 449,253.2 434.2,245.6 420.8,236.6 414.7,231.6 409.1,226.4 403.7,220.6 399.1,215 394.7,208.7 391.1,202.7 388.1,196.7 385.1,189.5 380.9,175.7 378.4,161.8 377.3,146.8 377.9,130.8 379.9,114.9 383.5,96.9 388.7,74.9 398.2,39Z"/>
<path fill="#ff9a00" d="M402.9,39L403.1,38 482,38 482,258.9 466,254.3 451,248.2 437.2,240.6 424.6,231.6 413.8,221.6 408.5,215.7 404.1,209.9 400,203.7 396.6,197.7 391,184.7 387.1,171.7 384.7,157.8 383.7,142.8 384.2,127.8 386.1,111.9 389.5,92.9 395.1,68.9 402.6,40Z"/>
<path fill="#ff9100" d="M407.8,38L482,38 482,253.9 466,248.7 452.4,242.6 439.1,234.7 428.1,226.2 417.5,215.7 409.1,204.7 402.2,192.7 396.8,179.7 393.2,166.8 390.9,152.8 390,137.8 390.6,122.8 392.6,105.9 395.9,86.9 400.8,64.9 407.6,39Z"/>
<path fill="#ff8700" d="M412.6,38L482,38 482,248.7 467.8,243.6 454,236.9 442.6,229.6 432.1,221 423.1,211.7 414.9,200.7 408.2,188.7 403,175.7 399.5,162.8 397.2,148.8 396.3,133.8 396.8,118.8 398.6,101.9 401.8,82.9 406.4,62 412.4,39Z"/>
<path fill="#ff7d00" d="M417.5,38L482,38 482,243.3 468.1,237.6 456,231.2 445,223.7 435.9,215.7 427,205.7 419.5,194.7 413.3,182.7 408.8,170.7 405.5,157.8 403.4,144.8 402.6,129.8 402.9,114.9 404.6,97.9 407.7,78.9 411.8,60 417.3,39Z"/>
<path fill="#ff7300" d="M422.5,38L482,38 482,237.5 469,231.7 458,225.3 448,218 439.3,209.7 431.1,199.8 424.6,189.7 418.7,177.7 414.5,165.8 411.3,152.8 409.4,139.8 408.6,124.8 409,109.9 410.5,93.9 413.3,75.9 417.2,58 422.3,39Z"/>
<path fill="#ff6900" d="M427.7,38L482,38 482,231.5 470,225.5 460,219.3 451,212.2 442.6,203.7 435.1,193.8 429,183.7 423.9,172.7 419.9,160.8 417,147.8 415.2,134.8 414.5,120.8 414.9,105.9 416.4,89.9 419.1,72.9 422.7,56 427.4,39Z"/>
<path fill="#ff5f00" d="M432.9,38L482,38 482,225.3 471,219.3 462,213.2 453.3,205.7 446,197.7 439.1,188.1 433.2,177.7 428.6,166.8 425.1,155.8 422.4,142.8 420.8,129.8 420.2,115.8 420.7,101.9 422.1,86.9 424.7,70.9 428.2,55 432.7,39Z"/>
<path fill="#ff5500" d="M437.9,39L438.2,38 482,38 482,218.9 472,212.9 463.6,206.7 456,199.6 449,191.5 443,182.7 437.7,172.7 433.3,161.8 430.1,150.8 427.7,138.8 426.4,126.8 425.9,113.9 426.4,99.9 427.7,85.9 430.1,70.9 433.4,56 437.7,40Z"/>
<path fill="#ff4b00" d="M443.5,38L482,38 482,212.3 473,206.4 465,199.9 457.9,192.7 451.6,184.7 446,175.8 441.6,166.8 437.8,156.8 434.8,145.8 432.9,134.8 431.7,122.8 431.5,109.9 432.2,96.9 433.6,83.9 435.9,69.9 438.5,58 443.3,39Z"/>
<path fill="#ff4100" d="M448.9,38L482,38 482,205.5 474,199.7 467,193.6 460.7,186.7 454.7,178.7 450,170.7 445.7,161.8 442.2,151.8 439.7,141.8 438.1,131.8 437.2,120.8 437.1,108.9 437.8,96.9 439.1,84.9 441.2,71.9 448.7,39Z"/>
<path fill="#ff3700" d="M454.4,38L482,38 482,198.4 474.8,192.7 468,186 462,178.9 457.2,171.7 452.9,163.8 449.5,155.8 446.6,146.8 444.6,137.8 443.2,127.8 442.7,117.8 442.8,106.9 443.6,95.9 446.9,72.9 454.2,39Z"/>
<path fill="#ff2d00" d="M460,38L482,38 482,191 476,185.7 470,179.4 464.8,172.7 460.4,165.8 456.8,158.8 453.6,150.8 451.3,142.8 449.5,133.8 448.6,124.8 448.3,115.8 448.6,105.9 449.5,95.9 452.7,73.9 459.8,39Z"/>
<path fill="#ff2300" d="M465.6,38L482,38 482,183.1 476.5,177.7 471.4,171.7 467,165.6 463.1,158.8 459.9,151.8 457.5,144.8 455.8,137.8 454.6,129.8 454,114.9 455.3,96.9 458.3,76.9 465.5,39Z"/>
<path fill="#ff1900" d="M471.4,38L482,38 482,174.7 477,169.2 473,164 469.7,158.8 466.6,152.8 464.1,146.8 462.3,140.8 460.8,133.8 460,126.8 459.8,113.9 461.1,98.9 464,79.9 471.2,39Z"/>
<path fill="#ff0f00" d="M477.1,38L482,38 482,165.6 475,156.1 472.1,150.8 469.9,145.8 467,135.8 465.7,123.8 465.9,112.9 467.1,100.9 477,39Z"/>
<path fill="#ff0500" d="M482,46L482,155.4 477.4,147.8 474.1,139.8 472.4,131.8 471.7,121.8 472.1,113.9 473,104.8 481.8,47Z"/>
</g>
<g fill="none" stroke="#686868" stroke-width="1" stroke-linejoin="round">
<path d="M169.9,400.3L151.4,399.2 122.4,396.6 114.4,396.3 109.4,395.5 100.4,394.8 87.5,393 78.5,390.5 70.5,386.7 66.5,383.6 64.7,381.3 63.5,379.2 62.1,375.3 61.1,371.4 60.2,362.4 60.3,357.4 61.4,345.4 62.1,341.4 65.7,326.4 80.7,274.5 86.5,252.6 92,229.6"/>
<path d="M95.7,213.7L102.6,180.7 110.4,139.9 117.8,97.9 127.6,38"/>
<path d="M482,394.3L343.2,392.8 291.2,391.9 237.3,390.2 191.3,387.7 144.4,383.9 132.4,382.6 120.4,380.6 112.7,378.3 107.4,376.3 100.8,372.4 96.2,368.4 93,364.4 90.1,359.4 88.1,354.4 86.8,349.4 86.2,344.4 86.2,338.4 87,331.4 88.1,325.4 90.8,315.5 97.8,292.5 129.7,191.7 144.2,144.8 156.4,102.6 166.9,63"/>
<path d="M170.8,47L172.9,38"/>
<path d="M482,385.3L440,384.1 373.1,382.6 325.2,380.9 271.2,378 216.3,374.4 196.3,372.7 185.3,371.4 175.4,369.6 166.4,367.4 158.4,364.9 150.4,361.7 142.4,357.6 137.3,354.4 130.8,349.4 126.2,344.4 122.8,339.4 120.6,334.4 119,328.4 118.3,321.5 118.5,314.5 119.4,306.5 121.3,296.5 125.7,279.5 131.4,261.6 159.4,185.8 171.1,151.8 184.6,110.9"/>
<path d="M189.9,94.9L208.9,38"/>
<path d="M482,373.9L459,372 434.1,370.5 353.2,367.5 325.2,366.2 300.2,364.4 277.2,362.1 263.3,360.3 244.4,357.4 228.8,354.4 214.3,351.1 204.2,348.4 196.3,345.8 189.3,342.8 183.1,339.4"/>
<path d="M168.7,326.4L163.9,319.5 160.5,312.5 158.2,305.5 156.9,297.5 156.8,289.5 157.7,280.5 159.7,269.6 163.2,254.6 170.5,228.6 175.4,213.7 181.3,196.7 191.3,170.5 215,111.9 224.4,87.9 233.8,62 241.4,38"/>
<path d="M482,357.2L451,355.5 416.1,352.8 327.2,343.9 306.2,341.4 288.2,338.4 270.2,334.1 255.3,329.3 241.5,323.4 233.8,319.5 227.2,315.5 221.5,311.5 216.3,307.1 211.9,302.5 208.3,297.7 205.4,292.5 203.4,287.5 201.7,281.5 200.8,275.5 200.3,268.6 200.4,261.6 201,252.6 202.2,243.6 203.8,233.6 206.1,222.6"/>
<path d="M210.3,206.7L216,188.7 223.3,168.7 231.5,148.8 250.6,103.9 259.6,80.9 267.3,58 272.7,38"/>
<path d="M482,336.7L454.8,334.4 429.1,331.4 401.3,327.4 368.1,321.9 338.2,316.5 323.2,313.2 308.2,308.9 296.2,304.1 286,298.5 281.2,295.2 276.6,291.5 268.8,283.5 264.8,278.5 261.5,273.5 258.3,267.9 255.7,262.6 251.8,251.6 250.3,245.6 249.3,239.6 248.4,226.6"/>
<path d="M249.1,210.7L250.5,200.7 252.6,189.7 255.5,178.7 259.2,166.8 263.3,155.6 268.4,142.8 288.9,95.9 296.6,76.9 303.3,57 305.5,49 307.8,38"/>
<path d="M482,311.4L472,310.3 451,307 433.1,303.6 416.1,300 400.1,296.2 386.3,292.5 375.1,288.9 365.1,285.2 356.1,281.3 347.2,276.6 340.2,272.2 333.2,267 327.2,261.6 321.8,255.6 317.4,249.6 313.2,242.6"/>
<path d="M306.4,226.6L304.5,219.6 303,212.7 302,205.7 301.4,197.7 301.3,189.7 301.7,182.7 302.7,174.7 304.1,166.8 308.6,148.8 330,75.9 337.2,55.2 344.6,38"/>
<path d="M482,276.8L471,274.8 461,272.4 451,269.5 441,266.1 432.1,262.5 423.1,258.3 414.4,253.6 406.5,248.6"/>
<path d="M387.2,232.6L381,225.6 375.1,217.5 370.2,208.7 366.3,199.7 363.2,189.7 360.9,179.7 359.5,168.7 358.9,156.8 359.1,146.8 360.1,135.8 361.7,124.8 364,112.9 369.8,89.9 385.1,38"/>
<path d="M482,225.3L469,218.1 463.9,214.7 458.8,210.7"/>
<path d="M443.6,194.7L438.8,187.7 434.8,180.7 430.9,172.7 427.8,164.8 425.4,156.8 423.3,147.8 421.6,137.8 420.7,127.8 420.3,117.8 420.4,106.9 421.2,95.9 422.4,84.9 424.3,72.9 426.8,61 429.5,50 432.9,38"/>
</g>
<g font-size="12" text-anchor="middle">
<text x="93.4" y="225.5">32</text>
<text x="169" y="58.7">49</text>
<text x="188" y="107.1">66</text>
<text x="173.6" y="337.6">83</text>
<text x="209.5" y="218.6">100</text>
<text x="250" y="222.6">117</text>
<text x="309.5" y="238.6">134</text>
<text x="396" y="245.1">151</text>
<text x="451" y="206.8">168</text>
</g>
<line x1="53.5" y1="382" x2="482" y2="135.8" stroke="#000" stroke-width="1.7"/>
<path d="M53.5,350.3h6.5M53.5,287.9h6.5M53.5,225.4h6.5M53.5,162.9h6.5M53.5,100.5h6.5M53.5,38.0h6.5M53.5,319.1h3.3M53.5,256.6h3.3M53.5,194.2h3.3M53.5,131.7h3.3M53.5,69.2h3.3M118.9,400.3v-6.5M191.5,400.3v-6.5M264.1,400.3v-6.5M336.7,400.3v-6.5M409.4,400.3v-6.5M482.0,400.3v-6.5M82.6,400.3v-3.3M155.2,400.3v-3.3M227.8,400.3v-3.3M300.4,400.3v-3.3M373.1,400.3v-3.3M445.7,400.3v-3.3" stroke="#000" stroke-width="1.5" fill="none"/>
<clipPath id="pc"><rect x="53.5" y="38" width="428.5" height="362.3"/></clipPath>
<g font-size="6.3" stroke-width="1" clip-path="url(#pc)">
<circle cx="319.4" cy="328.7" r="3.9" fill="#fff" stroke="#000" stroke-width="1.4"/>
<circle cx="320.7" cy="332.3" r="3.5" fill="#f00" stroke="#000"/>
<text x="320.8" y="341.6" text-anchor="middle">Sep-1</text>
<circle cx="268.5" cy="271.1" r="3.55" fill="#00f" stroke="#00008b"/>
<text x="267.2" y="281.2" text-anchor="middle">Aug-28</text>
<circle cx="288.2" cy="271.8" r="3.55" fill="#f00" stroke="#000"/>
<text x="290.8" y="280.7" text-anchor="middle">Aug-18</text>
<circle cx="326.7" cy="300" r="3.55" fill="#00f" stroke="#00008b"/>
<text x="332.7" y="302.6" text-anchor="start">Aug-31</text>
<circle cx="301.3" cy="314.3" r="3.55" fill="#00f" stroke="#00008b"/>
<text x="306.9" y="316.6" text-anchor="start">Aug-19</text>
<circle cx="290.9" cy="316.9" r="3.55" fill="#f00" stroke="#000"/>
<text x="291.6" y="326.3" text-anchor="middle">Aug-30</text>
<circle cx="272.3" cy="332.9" r="3.55" fill="#00f" stroke="#00008b"/>
<text x="277.2" y="335.4" text-anchor="start">Aug-29</text>
<circle cx="232.6" cy="334.2" r="3.55" fill="#00f" stroke="#00008b"/>
<text x="228.6" y="336.6" text-anchor="end">Aug-27</text>
<circle cx="249.2" cy="338.6" r="3.55" fill="#00f" stroke="#00008b"/>
<text x="254.1" y="341.3" text-anchor="start">Aug-26</text>
<circle cx="252.6" cy="351.6" r="3.55" fill="#00f" stroke="#00008b"/>
<text x="248.4" y="353" text-anchor="end">Aug-20</text>
<circle cx="267.6" cy="353.8" r="3.55" fill="#00f" stroke="#00008b"/>
<text x="272.6" y="356.1" text-anchor="start">Aug-25</text>
<circle cx="341.5" cy="354.3" r="3.55" fill="#00f" stroke="#00008b"/>
<text x="346.2" y="356.7" text-anchor="start">Aug-21</text>
<circle cx="381.5" cy="359.7" r="3.55" fill="#00f" stroke="#00008b"/>
<text x="386.9" y="362.1" text-anchor="start">Aug-24</text>
<circle cx="380.8" cy="369.3" r="3.55" fill="#00f" stroke="#00008b"/>
<text x="384.6" y="374.1" text-anchor="start">Aug-22</text>
<circle cx="448.4" cy="342.9" r="3.55" fill="#f00" stroke="#000"/>
<text x="449.1" y="351.6" text-anchor="middle">Aug-23</text>
<circle cx="481.5" cy="321.9" r="3.55" fill="#f00" stroke="#000"/>
<text x="471.5" y="331.2" text-anchor="middle">Sep-2</text>
</g>
<rect x="53.5" y="38" width="428.5" height="362.3" fill="none" stroke="#000" stroke-width="2"/>
<path d="M328.4,328.8h5.8" stroke="#000" stroke-width="1.2"/>
<text x="334" y="332.8" font-size="12.5">Average</text>
<text x="162.6" y="137.2" font-size="14.1" font-weight="bold">VOCs limited</text>
<text x="275" y="384.4" font-size="14" font-weight="bold">NO<tspan font-style="italic" font-size="9.5" dy="3.5">x</tspan><tspan dy="-3.5"> limited</tspan></text>
<g font-size="16" text-anchor="end">
<text x="46.5" y="43.2">30</text>
<text x="46.5" y="105.7">25</text>
<text x="46.5" y="168.1">20</text>
<text x="46.5" y="230.6">15</text>
<text x="46.5" y="293.1">10</text>
<text x="46.5" y="355.5">5</text>
<text x="46.5" y="405.5">1</text>
</g>
<g font-size="16" text-anchor="middle">
<text x="53.5" y="420.2">1</text>
<text x="118.9" y="420.2">10</text>
<text x="191.5" y="420.2">20</text>
<text x="264.1" y="420.2">30</text>
<text x="336.7" y="420.2">40</text>
<text x="409.4" y="420.2">50</text>
<text x="482.0" y="420.2">60</text>
</g>
<text x="281.6" y="444.6" font-size="17" text-anchor="middle">VOCs (ppb)</text>
<text transform="translate(20.4,219.5) rotate(-90)" font-size="17" text-anchor="middle">NO<tspan font-style="italic" font-size="11" dy="5">x</tspan><tspan dy="-5"> (ppb)</tspan></text>
<circle cx="130.1" cy="15.5" r="3.2" fill="#f00" stroke="#000" stroke-width="0.9"/>
<text x="152.5" y="21" font-size="15.5" font-weight="bold">O<tspan font-size="11" dy="3.5">3</tspan><tspan dy="-3.5"> episode days</tspan></text>
<circle cx="275.8" cy="15.5" r="3.2" fill="#00f" stroke="#00008b" stroke-width="0.9"/>
<text x="296.5" y="21" font-size="15.6" font-weight="bold">Non-O<tspan font-size="11.5" dy="3.5">3</tspan><tspan dy="-3.5" dx="0.6"> episode days</tspan></text>
<g shape-rendering="crispEdges"><rect x="493.6" y="396.68" width="23.5" height="3.92" fill="#0005ff"/><rect x="493.6" y="393.05" width="23.5" height="3.92" fill="#000fff"/><rect x="493.6" y="389.43" width="23.5" height="3.92" fill="#0019ff"/><rect x="493.6" y="385.81" width="23.5" height="3.92" fill="#0023ff"/><rect x="493.6" y="382.19" width="23.5" height="3.92" fill="#002dff"/><rect x="493.6" y="378.56" width="23.5" height="3.92" fill="#0037ff"/><rect x="493.6" y="374.94" width="23.5" height="3.92" fill="#0042ff"/><rect x="493.6" y="371.32" width="23.5" height="3.92" fill="#004cff"/><rect x="493.6" y="367.69" width="23.5" height="3.92" fill="#0056ff"/><rect x="493.6" y="364.07" width="23.5" height="3.92" fill="#0060ff"/><rect x="493.6" y="360.45" width="23.5" height="3.92" fill="#006aff"/><rect x="493.6" y="356.82" width="23.5" height="3.92" fill="#0074ff"/><rect x="493.6" y="353.20" width="23.5" height="3.92" fill="#007eff"/><rect x="493.6" y="349.58" width="23.5" height="3.92" fill="#0088ff"/><rect x="493.6" y="345.96" width="23.5" height="3.92" fill="#0092ff"/><rect x="493.6" y="342.33" width="23.5" height="3.92" fill="#009cff"/><rect x="493.6" y="338.71" width="23.5" height="3.92" fill="#00a6ff"/><rect x="493.6" y="335.09" width="23.5" height="3.92" fill="#00b0ff"/><rect x="493.6" y="331.46" width="23.5" height="3.92" fill="#00bbff"/><rect x="493.6" y="327.84" width="23.5" height="3.92" fill="#00c5ff"/><rect x="493.6" y="324.22" width="23.5" height="3.92" fill="#00cfff"/><rect x="493.6" y="320.59" width="23.5" height="3.92" fill="#00d9ff"/><rect x="493.6" y="316.97" width="23.5" height="3.92" fill="#00e3ff"/><rect x="493.6" y="313.35" width="23.5" height="3.92" fill="#00edff"/><rect x="493.6" y="309.73" width="23.5" height="3.92" fill="#00f7ff"/><rect x="493.6" y="306.10" width="23.5" height="3.92" fill="#00fffd"/><rect x="493.6" y="302.48" width="23.5" height="3.92" fill="#00fff2"/><rect x="493.6" y="298.86" width="23.5" height="3.92" fill="#00ffe7"/><rect x="493.6" y="295.23" width="23.5" height="3.92" fill="#00ffdc"/><rect x="493.6" y="291.61" width="23.5" height="3.92" fill="#00ffd1"/><rect x="493.6" y="287.99" width="23.5" height="3.92" fill="#00ffc7"/><rect x="493.6" y="284.36" width="23.5" height="3.92" fill="#00ffbc"/><rect x="493.6" y="280.74" width="23.5" height="3.92" fill="#00ffb1"/><rect x="493.6" y="277.12" width="23.5" height="3.92" fill="#00ffa6"/><rect x="493.6" y="273.50" width="23.5" height="3.92" fill="#00ff9b"/><rect x="493.6" y="269.87" width="23.5" height="3.92" fill="#00ff91"/><rect x="493.6" y="266.25" width="23.5" height="3.92" fill="#00ff86"/><rect x="493.6" y="262.63" width="23.5" height="3.92" fill="#00ff7b"/><rect x="493.6" y="259.00" width="23.5" height="3.92" fill="#00ff70"/><rect x="493.6" y="255.38" width="23.5" height="3.92" fill="#00ff65"/><rect x="493.6" y="251.76" width="23.5" height="3.92" fill="#00ff5b"/><rect x="493.6" y="248.13" width="23.5" height="3.92" fill="#00ff50"/><rect x="493.6" y="244.51" width="23.5" height="3.92" fill="#00ff45"/><rect x="493.6" y="240.89" width="23.5" height="3.92" fill="#00ff3a"/><rect x="493.6" y="237.27" width="23.5" height="3.92" fill="#00ff2f"/><rect x="493.6" y="233.64" width="23.5" height="3.92" fill="#00ff00"/><rect x="493.6" y="230.02" width="23.5" height="3.92" fill="#00ff00"/><rect x="493.6" y="226.40" width="23.5" height="3.92" fill="#00ff00"/><rect x="493.6" y="222.77" width="23.5" height="3.92" fill="#00ff00"/><rect x="493.6" y="219.15" width="23.5" height="3.92" fill="#00ff00"/><rect x="493.6" y="215.53" width="23.5" height="3.92" fill="#00ff00"/><rect x="493.6" y="211.90" width="23.5" height="3.92" fill="#00ff00"/><rect x="493.6" y="208.28" width="23.5" height="3.92" fill="#00ff00"/><rect x="493.6" y="204.66" width="23.5" height="3.92" fill="#00ff00"/><rect x="493.6" y="201.04" width="23.5" height="3.92" fill="#00ff00"/><rect x="493.6" y="197.41" width="23.5" height="3.92" fill="#00ff00"/><rect x="493.6" y="193.79" width="23.5" height="3.92" fill="#00ff00"/><rect x="493.6" y="190.17" width="23.5" height="3.92" fill="#00ff00"/><rect x="493.6" y="186.54" width="23.5" height="3.92" fill="#00ff00"/><rect x="493.6" y="182.92" width="23.5" height="3.92" fill="#00ff00"/><rect x="493.6" y="179.30" width="23.5" height="3.92" fill="#00ff00"/><rect x="493.6" y="175.67" width="23.5" height="3.92" fill="#00ff00"/><rect x="493.6" y="172.05" width="23.5" height="3.92" fill="#00ff00"/><rect x="493.6" y="168.43" width="23.5" height="3.92" fill="#00ff00"/><rect x="493.6" y="164.81" width="23.5" height="3.92" fill="#3eff00"/><rect x="493.6" y="161.18" width="23.5" height="3.92" fill="#52ff00"/><rect x="493.6" y="157.56" width="23.5" height="3.92" fill="#65ff00"/><rect x="493.6" y="153.94" width="23.5" height="3.92" fill="#79ff00"/><rect x="493.6" y="150.31" width="23.5" height="3.92" fill="#8cff00"/><rect x="493.6" y="146.69" width="23.5" height="3.92" fill="#a0ff00"/><rect x="493.6" y="143.07" width="23.5" height="3.92" fill="#b3ff00"/><rect x="493.6" y="139.44" width="23.5" height="3.92" fill="#c6ff00"/><rect x="493.6" y="135.82" width="23.5" height="3.92" fill="#daff00"/><rect x="493.6" y="132.20" width="23.5" height="3.92" fill="#edff00"/><rect x="493.6" y="128.57" width="23.5" height="3.92" fill="#fffe00"/><rect x="493.6" y="124.95" width="23.5" height="3.92" fill="#fff400"/><rect x="493.6" y="121.33" width="23.5" height="3.92" fill="#ffea00"/><rect x="493.6" y="117.71" width="23.5" height="3.92" fill="#ffe000"/><rect x="493.6" y="114.08" width="23.5" height="3.92" fill="#ffd600"/><rect x="493.6" y="110.46" width="23.5" height="3.92" fill="#ffcc00"/><rect x="493.6" y="106.84" width="23.5" height="3.92" fill="#ffc200"/><rect x="493.6" y="103.21" width="23.5" height="3.92" fill="#ffb800"/><rect x="493.6" y="99.59" width="23.5" height="3.92" fill="#ffae00"/><rect x="493.6" y="95.97" width="23.5" height="3.92" fill="#ffa400"/><rect x="493.6" y="92.35" width="23.5" height="3.92" fill="#ff9a00"/><rect x="493.6" y="88.72" width="23.5" height="3.92" fill="#ff9100"/><rect x="493.6" y="85.10" width="23.5" height="3.92" fill="#ff8700"/><rect x="493.6" y="81.48" width="23.5" height="3.92" fill="#ff7d00"/><rect x="493.6" y="77.85" width="23.5" height="3.92" fill="#ff7300"/><rect x="493.6" y="74.23" width="23.5" height="3.92" fill="#ff6900"/><rect x="493.6" y="70.61" width="23.5" height="3.92" fill="#ff5f00"/><rect x="493.6" y="66.98" width="23.5" height="3.92" fill="#ff5500"/><rect x="493.6" y="63.36" width="23.5" height="3.92" fill="#ff4b00"/><rect x="493.6" y="59.74" width="23.5" height="3.92" fill="#ff4100"/><rect x="493.6" y="56.12" width="23.5" height="3.92" fill="#ff3700"/><rect x="493.6" y="52.49" width="23.5" height="3.92" fill="#ff2d00"/><rect x="493.6" y="48.87" width="23.5" height="3.92" fill="#ff2300"/><rect x="493.6" y="45.25" width="23.5" height="3.92" fill="#ff1900"/><rect x="493.6" y="41.62" width="23.5" height="3.92" fill="#ff0f00"/><rect x="493.6" y="38.00" width="23.5" height="3.92" fill="#ff0500"/></g>
<rect x="493.6" y="38" width="23.5" height="362.3" fill="none" stroke="#000" stroke-width="1.3"/>
<g font-size="12.2">
<text x="522.4" y="404.7">15</text>
<text x="522.4" y="368.5">32</text>
<text x="522.4" y="332.2">49</text>
<text x="522.4" y="296.0">66</text>
<text x="522.4" y="259.8">83</text>
<text x="522.4" y="223.6">100</text>
<text x="522.4" y="187.3">117</text>
<text x="522.4" y="151.1">134</text>
<text x="522.4" y="114.9">151</text>
<text x="522.4" y="78.6">168</text>
<text x="522.4" y="42.4">185</text>
</g>
<path d="M517.1,364.1h-6M517.1,327.8h-6M517.1,291.6h-6M517.1,255.4h-6M517.1,219.2h-6M517.1,182.9h-6M517.1,146.7h-6M517.1,110.5h-6M517.1,74.2h-6" stroke="#000" stroke-width="1.3" fill="none"/>
<text x="493.2" y="24.3" font-size="14.5">O<tspan font-size="10.5" dy="3.3">3</tspan><tspan dy="-3.3"> (ppb)</tspan></text>
</svg>
</body></html>
